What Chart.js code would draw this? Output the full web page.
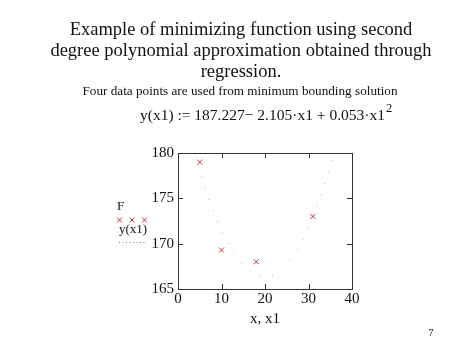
<!DOCTYPE html>
<html>
<head>
<meta charset="utf-8">
<script src="https://cdn.jsdelivr.net/npm/chart.js@4"></script>
<style>
html,body{margin:0;padding:0;background:#fff;}
#wrap{position:relative;width:474px;height:355px;}
</style>
</head>
<body>
<div id="wrap"><canvas id="c" width="474" height="355"></canvas></div>
<script>
// Data
const titleLines = ["Example of minimizing function using second", "degree polynomial approximation obtained through", "regression."];
const subtitle = "Four data points are used from minimum bounding solution";
const formulaText = "y(x1) := 187.227\u2212 2.105\u00b7x1 + 0.053\u00b7x1";
const xTicks = [0, 10, 20, 30, 40];
const yTicks = [165, 170, 175, 180];
const pointsX = [5, 10, 18, 31];
const pointsF = [179, 169.3, 168, 173];
const curveX = [3.8, 4, 5, 6, 8, 10, 12, 14, 16, 18, 20, 22, 24, 26, 28, 30, 32, 34, 35, 35.9];
const curveY = [179.99, 179.66, 178.03, 176.51, 173.78, 171.48, 169.6, 168.15, 167.12, 166.51, 166.33, 166.57, 167.24, 168.33, 169.84, 171.78, 174.14, 176.93, 178.49, 179.96];

const serif = '"Liberation Serif", "DejaVu Serif", serif';
const red = '#c8323c';

const textPlugin = {
  id: 'texts',
  afterDraw(chart) {
    const ctx = chart.ctx;
    ctx.save();
    ctx.fillStyle = '#111';
    ctx.textBaseline = 'alphabetic';
    ctx.textAlign = 'center';
    ctx.font = '18.5px ' + serif;
    const ty = [35, 56, 77];
    titleLines.forEach((t, i) => ctx.fillText(t, 241, ty[i]));
    ctx.font = '13.2px ' + serif;
    ctx.fillText(subtitle, 240, 95);
    ctx.textAlign = 'left';
    ctx.font = '15.5px ' + serif;
    ctx.fillText(formulaText, 140, 120);
    const w = ctx.measureText(formulaText).width;
    ctx.font = '12.5px ' + serif;
    ctx.fillText('2', 140 + w + 1, 112);
    // legend
    ctx.font = '13px ' + serif;
    ctx.fillText('F', 117, 210);
    ctx.fillText('y(x1)', 119, 233);
    ctx.strokeStyle = red;
    ctx.lineWidth = 1;
    [119.5, 132, 144.5].forEach(x => {
      ctx.beginPath();
      ctx.moveTo(x - 2.5, 220 - 2.5); ctx.lineTo(x + 2.5, 220 + 2.5);
      ctx.moveTo(x - 2.5, 220 + 2.5); ctx.lineTo(x + 2.5, 220 - 2.5);
      ctx.stroke();
    });
    ctx.strokeStyle = '#7080a8';
    ctx.setLineDash([1, 2.5]);
    ctx.beginPath(); ctx.moveTo(119, 242.5); ctx.lineTo(147, 242.5); ctx.stroke();
    ctx.setLineDash([]);
    ctx.font = '10px ' + serif;
    ctx.textAlign = 'center';
    ctx.fillText('7', 431, 336);
    // frame and inner tick marks
    const a = chart.chartArea;
    const xs = chart.scales.x, ys = chart.scales.y;
    ctx.strokeStyle = '#333';
    ctx.lineWidth = 1;
    ctx.strokeRect(Math.round(a.left) + 0.5, Math.round(a.top) + 0.5, Math.round(a.right - a.left), Math.round(a.bottom - a.top));
    ctx.beginPath();
    xTicks.forEach(v => {
      const px = Math.round(xs.getPixelForValue(v)) + 0.5;
      ctx.moveTo(px, a.bottom); ctx.lineTo(px, a.bottom - 5);
      ctx.moveTo(px, a.top); ctx.lineTo(px, a.top + 5);
    });
    yTicks.forEach(v => {
      const py = Math.round(ys.getPixelForValue(v)) + 0.5;
      ctx.moveTo(a.left, py); ctx.lineTo(a.left + 5, py);
      ctx.moveTo(a.right, py); ctx.lineTo(a.right - 5, py);
    });
    ctx.stroke();
    ctx.restore();
  }
};

new Chart(document.getElementById('c'), {
  type: 'scatter',
  data: {
    datasets: [
      {
        label: 'F',
        data: pointsX.map((x, i) => ({x: x, y: pointsF[i]})),
        pointStyle: 'crossRot',
        pointRadius: 3.5,
        pointBorderWidth: 1,
        borderColor: red,
        backgroundColor: red,
        showLine: false
      },
      {
        label: 'y(x1)',
        data: curveX.map((x, i) => ({x: x, y: curveY[i]})),
        showLine: true,
        pointRadius: 0,
        borderColor: 'rgba(110,120,160,0.55)',
        borderWidth: 1,
        borderDash: [1, 11],
        cubicInterpolationMode: 'monotone',
        fill: false
      }
    ]
  },
  options: {
    responsive: false,
    animation: false,
    devicePixelRatio: 1,
    layout: { padding: { left: 130, right: 122, top: 153, bottom: 0 } },
    plugins: { legend: { display: false }, tooltip: { enabled: false }, title: { display: false } },
    scales: {
      x: {
        type: 'linear', min: 0, max: 40,
        afterFit(s) { s.height = 66; },
        afterBuildTicks(s) { s.ticks = xTicks.map(v => ({value: v})); },
        grid: { display: false, drawTicks: false },
        border: { display: false },
        ticks: { color: '#111', font: { family: serif, size: 15 }, padding: 1 },
        title: { display: true, text: 'x, x1', color: '#111', font: { family: serif, size: 15 }, padding: { top: 0, bottom: 27 } }
      },
      y: {
        type: 'linear', min: 165, max: 180,
        afterFit(s) { s.width = 48; },
        afterBuildTicks(s) { s.ticks = yTicks.map(v => ({value: v})); },
        grid: { display: false, drawTicks: false },
        border: { display: false },
        ticks: { color: '#111', font: { family: serif, size: 15 }, padding: 4 }
      }
    }
  },
  plugins: [textPlugin]
});
</script>
</body>
</html>
